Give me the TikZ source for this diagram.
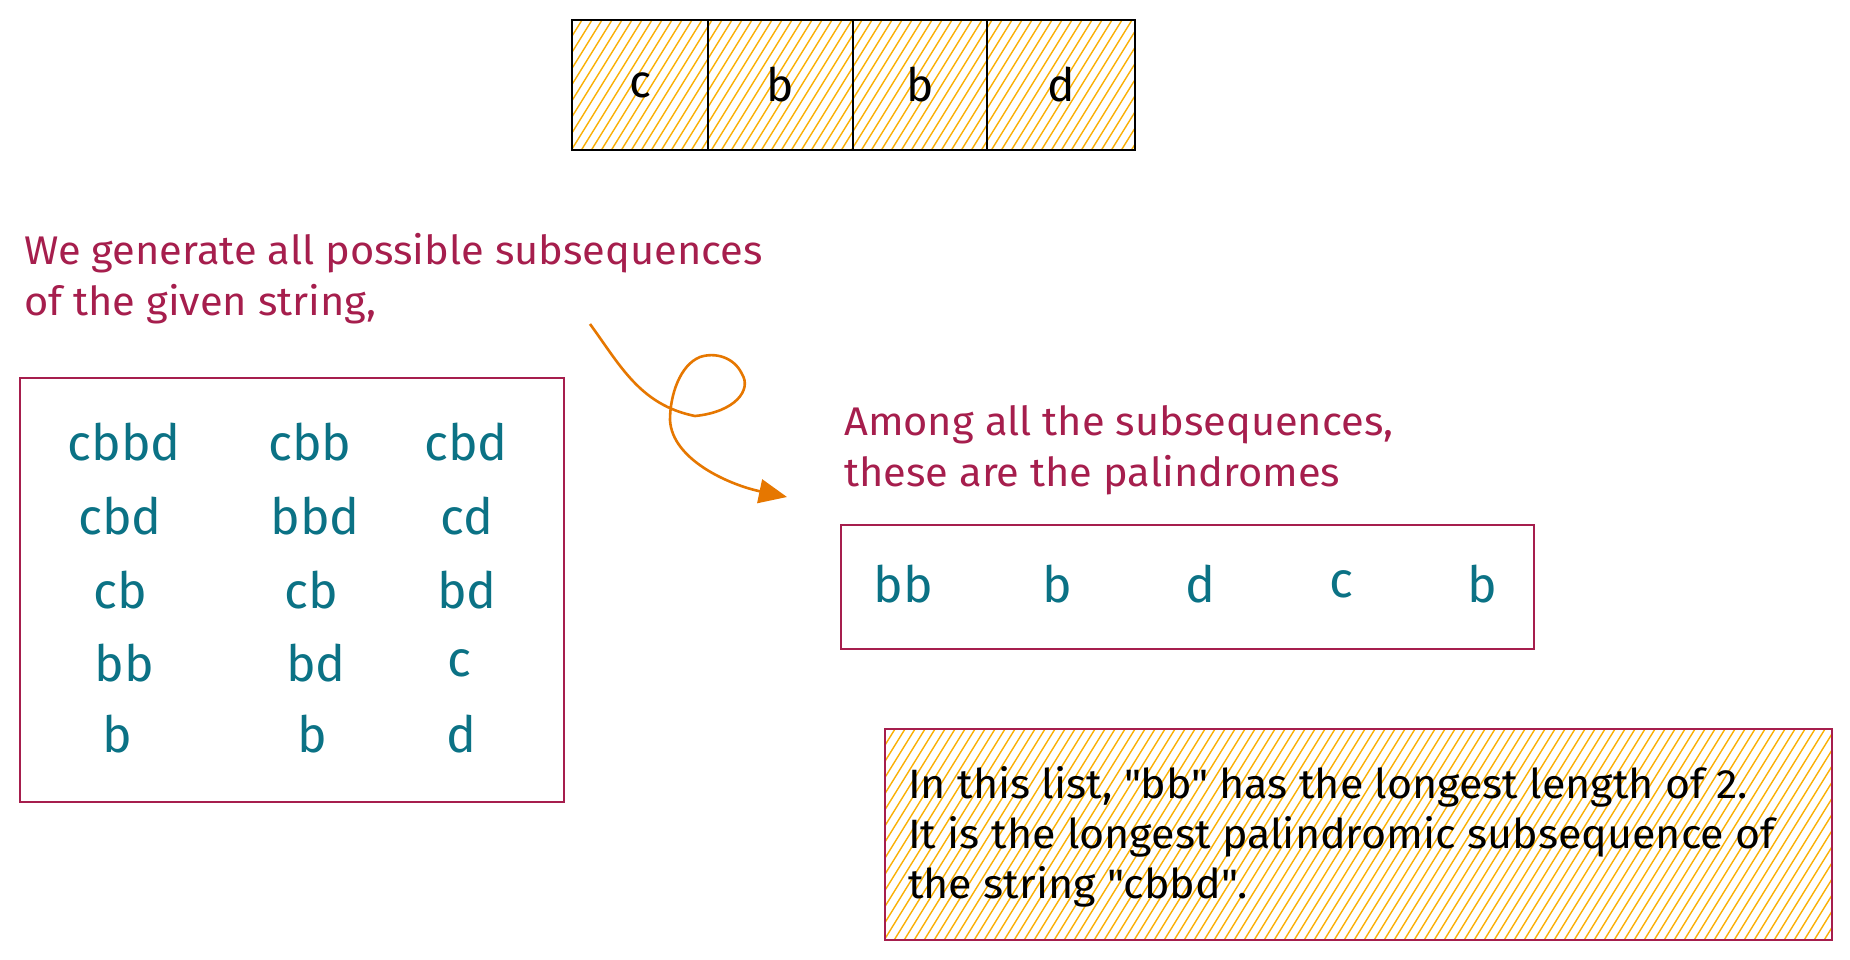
\documentclass[tikz,border=0pt]{standalone}
\usepackage{fontspec}
\setmainfont{Fira Sans}
\newfontfamily\pinkfont{Fira Sans}[FakeStretch=1.04]
\newfontfamily\blackfont{Fira Sans}[FakeStretch=1.05]
\usetikzlibrary{arrows.meta}
\definecolor{crim}{HTML}{A61E4D}
\definecolor{teal9}{HTML}{0B7285}
\definecolor{org}{HTML}{E67700}
\definecolor{hatchy}{HTML}{FAB005}
\newcommand{\dq}{\XeTeXglyph\XeTeXcharglyph"22\relax}
\tikzset{
  hatchline/.style={draw=hatchy, line width=1.4pt},
  cellbox/.style={draw=black, line width=2.6pt, inner sep=0pt},
  pinkbox/.style={draw=crim, line width=2.6pt, inner sep=0pt},
  cellletter/.style={font=\fontsize{46}{50}\selectfont, text=black, inner sep=0pt},
  tealtxt/.style={font=\fontsize{50}{54}\selectfont, text=teal9, inner sep=0pt},
  pinktxt/.style={font=\pinkfont\fontsize{40}{51}\selectfont, text=crim, align=left, inner sep=0pt},
  blacktxt/.style={font=\blackfont\fontsize{41}{50}\selectfont, text=black, align=left, inner sep=0pt},
  orgarrow/.style={draw=org, line width=2.6pt, -{Triangle[length=28pt, width=24pt]}},
}
\newcommand{\hatchrect}[4]{%
  \begin{scope}
  \clip (#1,#2) rectangle (#3,#4);
  \pgfmathsetmacro{\hh}{(#4-#2)*0.62}
  \pgfmathsetmacro{\vv}{-(#4-#2)}
  \pgfmathsetmacro{\xs}{#1-\hh}
  \pgfmathsetmacro{\xn}{\xs+10}
  \foreach \x in {\xs,\xn,...,#3} \draw[hatchline] (\x,#4) -- ++(\hh,\vv);
  \end{scope}}
\begin{document}
\begin{tikzpicture}[x=1pt,y=-1pt]
\useasboundingbox (0,0) rectangle (1850,959);
\fill[white] (0,0) rectangle (1850,959);

% top string cells
\hatchrect{572}{20}{1135}{150}
\node[cellbox, minimum width=136, minimum height=130] (c1) at (640,85) {};
\node[cellbox, minimum width=145, minimum height=130] (c2) at (780.5,85) {};
\node[cellbox, minimum width=134, minimum height=130] (c3) at (920,85) {};
\node[cellbox, minimum width=148, minimum height=130] (c4) at (1061,85) {};
\node[cellletter] (l1) at (c1.center) {c};
\node[cellletter] (l2) at (c2.center) {b};
\node[cellletter] (l3) at (c3.center) {b};
\node[cellletter] (l4) at (c4.center) {d};

% left caption
\node[pinktxt, anchor=west] (cap1) at (24,279) {We generate all possible subsequences\\of the given string,};

% list of subsequences
\node[pinkbox, minimum width=544, minimum height=424] (list) at (292,590) {};
\node[tealtxt] (s11) at (124,442) {cbbd};
\node[tealtxt] (s12) at (310,442) {cbb};
\node[tealtxt] (s13) at (466,442) {cbd};
\node[tealtxt] (s21) at (120,516) {cbd};
\node[tealtxt] (s22) at (315,516) {bbd};
\node[tealtxt] (s23) at (467,516) {cd};
\node[tealtxt] (s31) at (120,590) {cb};
\node[tealtxt] (s32) at (311,590) {cb};
\node[tealtxt] (s33) at (467,590) {bd};
\node[tealtxt] (s41) at (124,663) {bb};
\node[tealtxt] (s42) at (316,663) {bd};
\node[tealtxt] (s43) at (459,663) {c};
\node[tealtxt] (s51) at (117,734) {b};
\node[tealtxt] (s52) at (312,734) {b};
\node[tealtxt] (s53) at (461,734) {d};

% right caption
\node[pinktxt, anchor=west] (cap2) at (844,450) {Among all the subsequences,\\these are the palindromes};

% palindromes
\node[pinkbox, minimum width=693, minimum height=124] (pal) at (1187.5,587) {};
\node[tealtxt] (p1) at (903,584) {bb};
\node[tealtxt] (p2) at (1057,584) {b};
\node[tealtxt] (p3) at (1200,584) {d};
\node[tealtxt] (p4) at (1341,584) {c};
\node[tealtxt] (p5) at (1482,584) {b};

% conclusion
\hatchrect{885}{729}{1832}{940}
\node[pinkbox, minimum width=947, minimum height=211] (concl) at (1358.5,834.5) {};
\node[blacktxt, anchor=west] (ctext) at (908,837) {In this list, \dq bb\dq{} has the longest length of 2.\\It is the longest palindromic subsequence of\\the string \dq cbbd\dq.};

% arrow
\coordinate (arrS) at (590,324);
\coordinate (arrE) at (787,497);
\draw[orgarrow] (arrS) .. controls (620,365) and (640,405) .. (695,416)
  .. controls (735,412) and (752,390) .. (742,374)
  .. controls (734,357) and (715,352) .. (700,357)
  .. controls (680,365) and (670,395) .. (670,420)
  .. controls (672,460) and (730,485) .. (arrE);
\end{tikzpicture}
\end{document}
